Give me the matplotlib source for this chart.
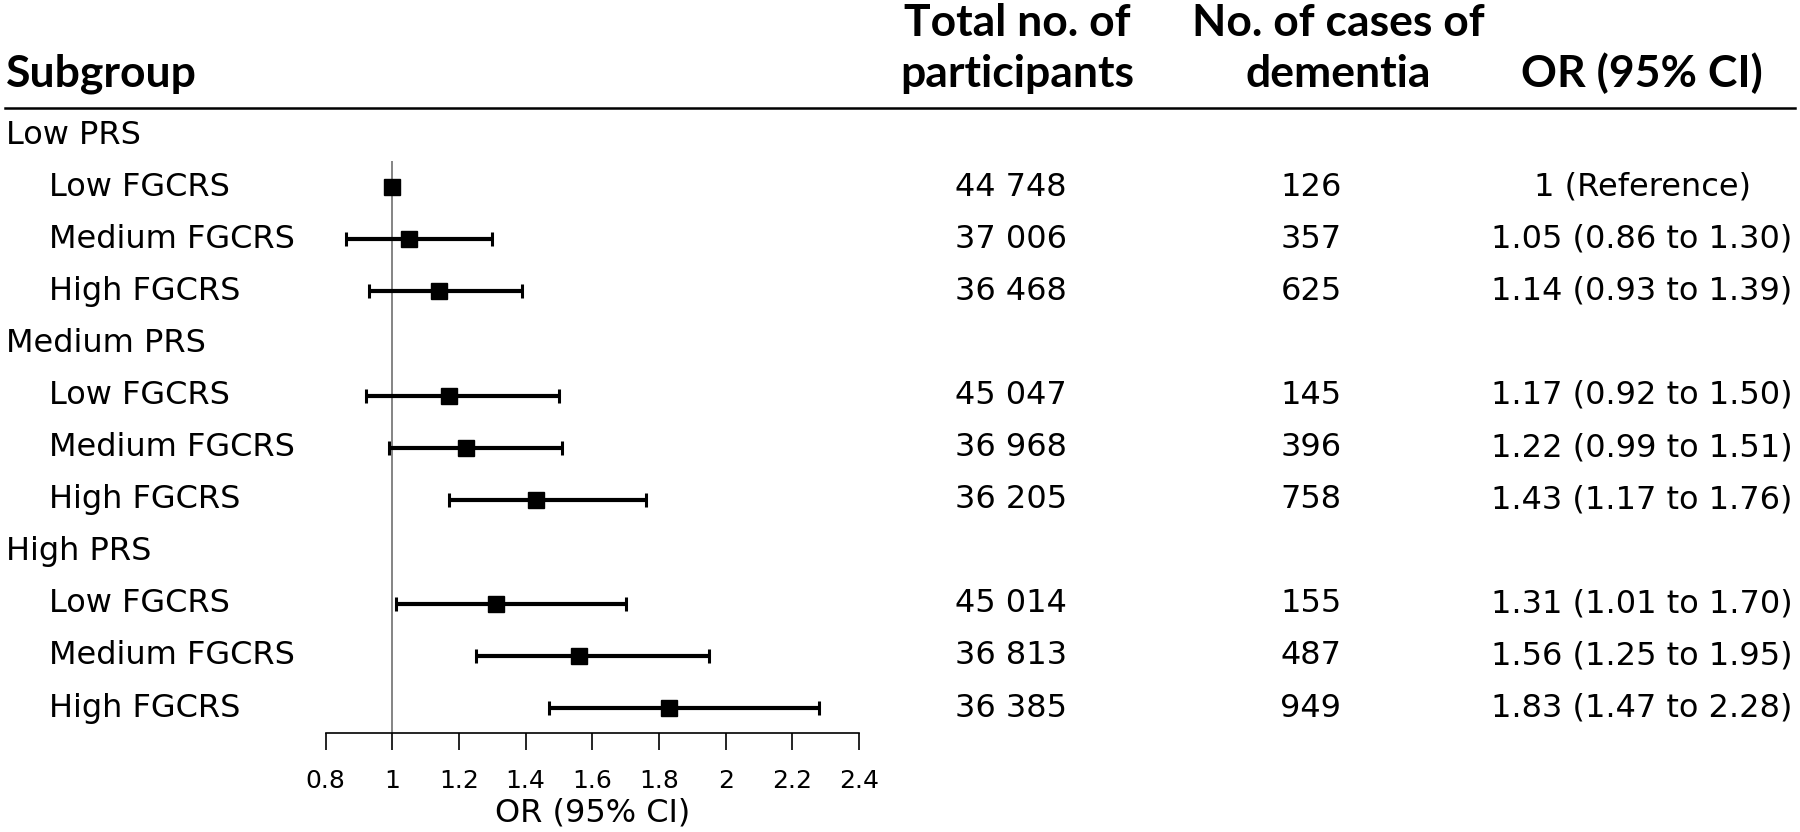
import numpy as np
import matplotlib
matplotlib.use('Agg')
import matplotlib.pyplot as plt
from matplotlib.lines import Line2D
from matplotlib.transforms import blended_transform_factory

# data
groups = ['Low PRS', 'Medium PRS', 'High PRS']
subgroups = ['Low FGCRS', 'Medium FGCRS', 'High FGCRS']
participants = ['44 748', '37 006', '36 468',
                '45 047', '36 968', '36 205',
                '45 014', '36 813', '36 385']
cases = [126, 357, 625, 145, 396, 758, 155, 487, 949]
or_val = [1.00, 1.05, 1.14, 1.17, 1.22, 1.43, 1.31, 1.56, 1.83]
ci_lo = [np.nan, 0.86, 0.93, 0.92, 0.99, 1.17, 1.01, 1.25, 1.47]
ci_hi = [np.nan, 1.30, 1.39, 1.50, 1.51, 1.76, 1.70, 1.95, 2.28]
xticks = [0.8, 1.0, 1.2, 1.4, 1.6, 1.8, 2.0, 2.2, 2.4]
xtick_labels = ['0.8', '1', '1.2', '1.4', '1.6', '1.8', '2', '2.2', '2.4']

W, H = 1800, 832
fig = plt.figure(figsize=(W / 100, H / 100), dpi=100)
plt.rcParams['font.family'] = ['DejaVu Sans']

# forest axis placed where the reference draws it (pixel based)
ax_left, ax_right = 325.5, 859
ax_bot, ax_top = 733, 108
ax = fig.add_axes([ax_left / W, 1 - ax_bot / H,
                   (ax_right - ax_left) / W, (ax_bot - ax_top) / H])

row0, step = 135, 52.1
ax.set_ylim((ax_bot - row0) / step, (ax_top - row0) / step)
ax.set_xlim(0.8, 2.4)

# row positions: group header then 3 subgroups
rows_grp = []
rows_sub = []
r = 0
for g in groups:
    rows_grp.append(r)
    r += 1
    for s in subgroups:
        rows_sub.append(r)
        r += 1

ax.vlines(1.0, 0.5, ax.get_ylim()[0], color='#707070', lw=1.2, zorder=1)

lo = np.array(ci_lo)
hi = np.array(ci_hi)
x = np.array(or_val)
y = np.array(rows_sub)
has_ci = ~np.isnan(lo)
ax.errorbar(x[has_ci], y[has_ci],
            xerr=[x[has_ci] - lo[has_ci], hi[has_ci] - x[has_ci]],
            fmt='none', ecolor='black', elinewidth=3, capsize=5, capthick=2.2,
            zorder=2)
ax.plot(x, y, 's', color='black', markersize=12, zorder=3)

for sp in ['top', 'right', 'left']:
    ax.spines[sp].set_visible(False)
ax.spines['bottom'].set_linewidth(1.2)
ax.set_yticks([])
ax.set_xticks(xticks)
ax.set_xticklabels(xtick_labels, fontsize=18)
ax.tick_params(axis='x', length=12, width=1.2, pad=14)
ax.set_xlabel('OR (95% CI)', fontsize=23)
ax.xaxis.set_label_coords(0.5, (ax_bot - 813) / (ax_bot - ax_top))
ax.xaxis.label.set_va('center')

# table text, x in figure pixels / W, y in row units
tr = blended_transform_factory(fig.transFigure, ax.transData)
fs = 23
for gi, g in enumerate(groups):
    ax.text(6 / W, rows_grp[gi], g, transform=tr, fontsize=fs,
            ha='left', va='center', clip_on=False)
for i, rr in enumerate(rows_sub):
    ax.text(49 / W, rr, subgroups[i % 3], transform=tr, fontsize=fs,
            ha='left', va='center', clip_on=False)
    ax.text(1011 / W, rr, participants[i], transform=tr, fontsize=fs,
            ha='center', va='center', clip_on=False)
    ax.text(1311 / W, rr, str(cases[i]), transform=tr, fontsize=fs,
            ha='center', va='center', clip_on=False)
    if np.isnan(ci_lo[i]):
        lab = '%g (Reference)' % or_val[i]
    else:
        lab = '%.2f (%.2f to %.2f)' % (or_val[i], ci_lo[i], ci_hi[i])
    ax.text(1642 / W, rr, lab, transform=tr, fontsize=fs,
            ha='center', va='center', clip_on=False)

# column headers
hfont = dict(family=['Lato', 'DejaVu Sans'], fontweight='bold', fontsize=32)
base2 = 1 - 87 / H
base1 = 1 - 36 / H
fig.text(6 / W, base2, 'Subgroup', ha='left', va='baseline', **hfont)
fig.text(1017 / W, base1, 'Total no. of', ha='center', va='baseline', **hfont)
fig.text(1017 / W, base2, 'participants', ha='center', va='baseline', **hfont)
fig.text(1338 / W, base1, 'No. of cases of', ha='center', va='baseline', **hfont)
fig.text(1338 / W, base2, 'dementia', ha='center', va='baseline', **hfont)
fig.text(1642 / W, base2, 'OR (95% CI)', ha='center', va='baseline', **hfont)

fig.add_artist(Line2D([5 / W, 1795 / W], [1 - 108 / H, 1 - 108 / H],
                      transform=fig.transFigure, color='black', lw=1.8))

fig.savefig('out.png', dpi=100)
